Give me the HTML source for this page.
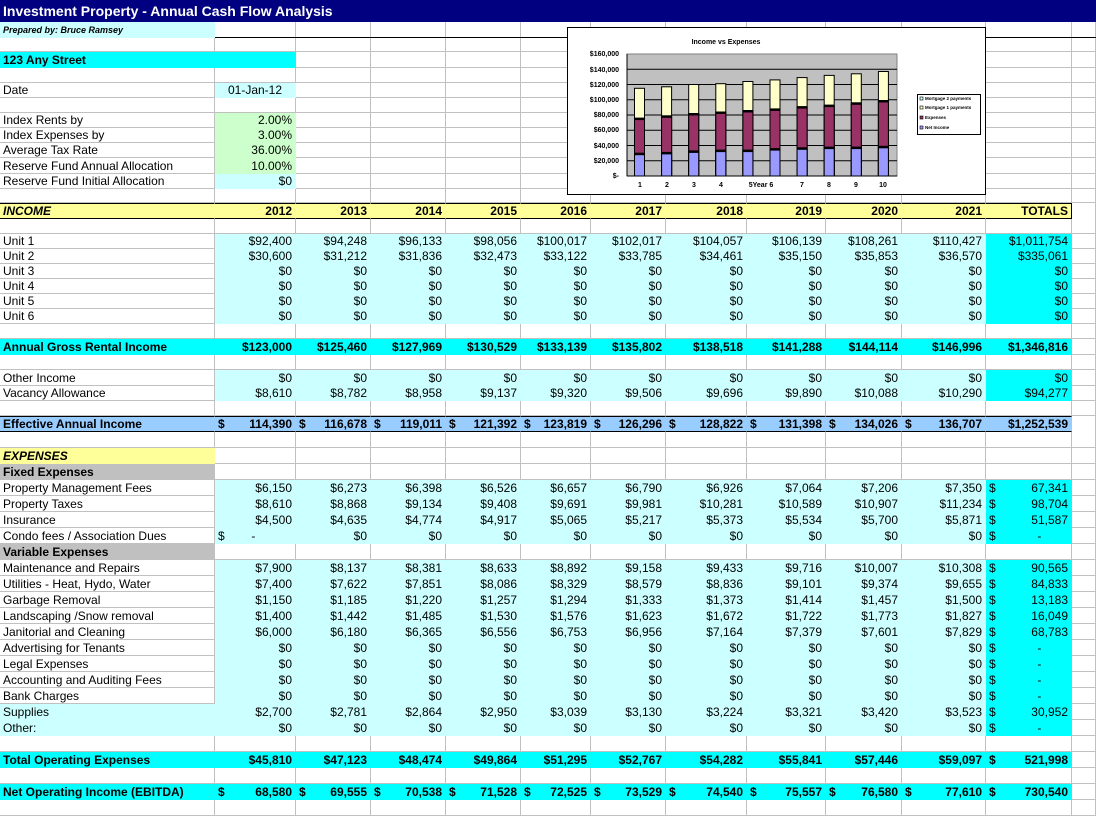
<!DOCTYPE html>
<html><head><meta charset="utf-8"><style>
*{box-sizing:border-box}
body{margin:0;width:1096px;height:806px;overflow:hidden;background:#fff;font-family:"Liberation Sans",Arial,sans-serif;font-size:12px;color:#000;position:relative}
#title{position:absolute;left:0;top:0;width:1096px;height:22px;background:#000080;color:#fff;font-weight:bold;font-size:14px;line-height:22px;padding-left:3px}
table{position:absolute;left:0;top:22px;border-collapse:separate;border-spacing:0;table-layout:fixed;width:1096px}
td{border-right:1px solid #c0c0c0;border-bottom:1px solid #c0c0c0;padding:0 3px;white-space:nowrap;overflow:hidden;text-align:right;line-height:12px}
td:first-child{text-align:left}
i{font-style:normal;float:left}
.c{background:#ccffff;border-color:#ccffff}
.C{background:#00ffff;border-color:#00ffff}
.g{background:#ccffcc;border-color:#ccffcc}
.b td{font-weight:bold}
tr.cy td{background:#00ffff;border-color:#00ffff}
tr.inc td{background:#ffff99;border-top:1px solid #000;border-bottom:1px solid #000;border-right-color:#ffff99;font-weight:bold}
tr.eai td{background:#99ccff;border-top:1px solid #000;border-bottom:1px solid #000;border-right-color:#99ccff;font-weight:bold}
.gr{background:#c0c0c0;border-color:#c0c0c0;font-weight:bold}
.y{background:#ffff99;border-color:#ffff99;font-weight:bold;font-style:italic}
.h15{height:15px}.h16{height:16px}.h14{height:14px}
</style></head><body>
<div id="title">Investment Property - Annual Cash Flow Analysis</div>
<table>
<colgroup><col style="width:215px"><col style="width:81px"><col style="width:75px"><col style="width:75px"><col style="width:75px"><col style="width:70px"><col style="width:75px"><col style="width:81px"><col style="width:79px"><col style="width:76px"><col style="width:84px"><col style="width:86px"><col style="width:24px"></colgroup>
<tr class="h16"><td class="c" style="font-size:9px;font-weight:bold;font-style:italic">Prepared by: Bruce Ramsey</td><td></td><td></td><td></td><td></td><td></td><td></td><td></td><td></td><td></td><td></td><td></td><td></td></tr>
<tr class="h14"><td></td><td></td><td></td><td></td><td></td><td></td><td></td><td></td><td></td><td></td><td></td><td></td><td></td></tr>
<tr class="h16"><td class="C" style="font-weight:bold">123 Any Street</td><td class="C"></td><td></td><td></td><td></td><td></td><td></td><td></td><td></td><td></td><td></td><td></td><td></td></tr>
<tr class="h15"><td></td><td></td><td></td><td></td><td></td><td></td><td></td><td></td><td></td><td></td><td></td><td></td><td></td></tr>
<tr class="h15"><td>Date</td><td class="c" style="text-align:center">01-Jan-12</td><td></td><td></td><td></td><td></td><td></td><td></td><td></td><td></td><td></td><td></td><td></td></tr>
<tr class="h15"><td></td><td></td><td></td><td></td><td></td><td></td><td></td><td></td><td></td><td></td><td></td><td></td><td></td></tr>
<tr class="h15"><td>Index Rents by</td><td class="g">2.00%</td><td></td><td></td><td></td><td></td><td></td><td></td><td></td><td></td><td></td><td></td><td></td></tr>
<tr class="h15"><td>Index Expenses by</td><td class="g">3.00%</td><td></td><td></td><td></td><td></td><td></td><td></td><td></td><td></td><td></td><td></td><td></td></tr>
<tr class="h15"><td>Average Tax Rate</td><td class="g">36.00%</td><td></td><td></td><td></td><td></td><td></td><td></td><td></td><td></td><td></td><td></td><td></td></tr>
<tr class="h16"><td>Reserve Fund Annual Allocation</td><td class="g">10.00%</td><td></td><td></td><td></td><td></td><td></td><td></td><td></td><td></td><td></td><td></td><td></td></tr>
<tr class="h15"><td>Reserve Fund Initial Allocation</td><td class="c">$0</td><td></td><td></td><td></td><td></td><td></td><td></td><td></td><td></td><td></td><td></td><td></td></tr>
<tr class="h14"><td></td><td></td><td></td><td></td><td></td><td></td><td></td><td></td><td></td><td></td><td></td><td></td><td></td></tr>
<tr class="h16 inc"><td style="font-style:italic">INCOME</td><td>2012</td><td>2013</td><td>2014</td><td>2015</td><td>2016</td><td>2017</td><td>2018</td><td>2019</td><td>2020</td><td>2021</td><td style="border-right:1px solid #000">TOTALS</td><td style="background:#fff;border:none;border-right:1px solid #c0c0c0"></td></tr>
<tr class="h15"><td></td><td></td><td></td><td></td><td></td><td></td><td></td><td></td><td></td><td></td><td></td><td></td><td></td></tr>
<tr class="h15"><td>Unit 1</td><td class="c">$92,400</td><td class="c">$94,248</td><td class="c">$96,133</td><td class="c">$98,056</td><td class="c">$100,017</td><td class="c">$102,017</td><td class="c">$104,057</td><td class="c">$106,139</td><td class="c">$108,261</td><td class="c">$110,427</td><td class="C">$1,011,754</td><td></td></tr>
<tr class="h15"><td>Unit 2</td><td class="c">$30,600</td><td class="c">$31,212</td><td class="c">$31,836</td><td class="c">$32,473</td><td class="c">$33,122</td><td class="c">$33,785</td><td class="c">$34,461</td><td class="c">$35,150</td><td class="c">$35,853</td><td class="c">$36,570</td><td class="C">$335,061</td><td></td></tr>
<tr class="h15"><td>Unit 3</td><td class="c">$0</td><td class="c">$0</td><td class="c">$0</td><td class="c">$0</td><td class="c">$0</td><td class="c">$0</td><td class="c">$0</td><td class="c">$0</td><td class="c">$0</td><td class="c">$0</td><td class="C">$0</td><td></td></tr>
<tr class="h15"><td>Unit 4</td><td class="c">$0</td><td class="c">$0</td><td class="c">$0</td><td class="c">$0</td><td class="c">$0</td><td class="c">$0</td><td class="c">$0</td><td class="c">$0</td><td class="c">$0</td><td class="c">$0</td><td class="C">$0</td><td></td></tr>
<tr class="h15"><td>Unit 5</td><td class="c">$0</td><td class="c">$0</td><td class="c">$0</td><td class="c">$0</td><td class="c">$0</td><td class="c">$0</td><td class="c">$0</td><td class="c">$0</td><td class="c">$0</td><td class="c">$0</td><td class="C">$0</td><td></td></tr>
<tr class="h15"><td>Unit 6</td><td class="c">$0</td><td class="c">$0</td><td class="c">$0</td><td class="c">$0</td><td class="c">$0</td><td class="c">$0</td><td class="c">$0</td><td class="c">$0</td><td class="c">$0</td><td class="c">$0</td><td class="C">$0</td><td></td></tr>
<tr class="h15"><td></td><td></td><td></td><td></td><td></td><td></td><td></td><td></td><td></td><td></td><td></td><td></td><td></td></tr>
<tr class="h16 b cy"><td>Annual Gross Rental Income</td><td>$123,000</td><td>$125,460</td><td>$127,969</td><td>$130,529</td><td>$133,139</td><td>$135,802</td><td>$138,518</td><td>$141,288</td><td>$144,114</td><td>$146,996</td><td>$1,346,816</td><td style="background:#fff;border-color:#c0c0c0"></td></tr>
<tr class="h15"><td></td><td></td><td></td><td></td><td></td><td></td><td></td><td></td><td></td><td></td><td></td><td></td><td></td></tr>
<tr class="h16"><td>Other Income</td><td class="c">$0</td><td class="c">$0</td><td class="c">$0</td><td class="c">$0</td><td class="c">$0</td><td class="c">$0</td><td class="c">$0</td><td class="c">$0</td><td class="c">$0</td><td class="c">$0</td><td class="C">$0</td><td></td></tr>
<tr class="h15"><td>Vacancy Allowance</td><td class="c">$8,610</td><td class="c">$8,782</td><td class="c">$8,958</td><td class="c">$9,137</td><td class="c">$9,320</td><td class="c">$9,506</td><td class="c">$9,696</td><td class="c">$9,890</td><td class="c">$10,088</td><td class="c">$10,290</td><td class="C">$94,277</td><td></td></tr>
<tr class="h15"><td></td><td></td><td></td><td></td><td></td><td></td><td></td><td></td><td></td><td></td><td></td><td></td><td></td></tr>
<tr class="h16 eai"><td>Effective Annual Income</td><td><i>$</i>114,390</td><td><i>$</i>116,678</td><td><i>$</i>119,011</td><td><i>$</i>121,392</td><td><i>$</i>123,819</td><td><i>$</i>126,296</td><td><i>$</i>128,822</td><td><i>$</i>131,398</td><td><i>$</i>134,026</td><td><i>$</i>136,707</td><td>$1,252,539</td><td style="background:#fff;border:none;border-right:1px solid #c0c0c0"></td></tr>
<tr class="h16"><td></td><td></td><td></td><td></td><td></td><td></td><td></td><td></td><td></td><td></td><td></td><td></td><td></td></tr>
<tr class="h16"><td class="y">EXPENSES</td><td></td><td></td><td></td><td></td><td></td><td></td><td></td><td></td><td></td><td></td><td></td><td></td></tr>
<tr class="h16"><td class="gr">Fixed Expenses</td><td></td><td></td><td></td><td></td><td></td><td></td><td></td><td></td><td></td><td></td><td></td><td></td></tr>
<tr class="h16"><td>Property Management Fees</td><td class="c">$6,150</td><td class="c">$6,273</td><td class="c">$6,398</td><td class="c">$6,526</td><td class="c">$6,657</td><td class="c">$6,790</td><td class="c">$6,926</td><td class="c">$7,064</td><td class="c">$7,206</td><td class="c">$7,350</td><td class="C"><i>$</i>67,341</td><td></td></tr>
<tr class="h16"><td>Property Taxes</td><td class="c">$8,610</td><td class="c">$8,868</td><td class="c">$9,134</td><td class="c">$9,408</td><td class="c">$9,691</td><td class="c">$9,981</td><td class="c">$10,281</td><td class="c">$10,589</td><td class="c">$10,907</td><td class="c">$11,234</td><td class="C"><i>$</i>98,704</td><td></td></tr>
<tr class="h16"><td>Insurance</td><td class="c">$4,500</td><td class="c">$4,635</td><td class="c">$4,774</td><td class="c">$4,917</td><td class="c">$5,065</td><td class="c">$5,217</td><td class="c">$5,373</td><td class="c">$5,534</td><td class="c">$5,700</td><td class="c">$5,871</td><td class="C"><i>$</i>51,587</td><td></td></tr>
<tr class="h16"><td>Condo fees / Association Dues</td><td class="c"><i>$</i>-&nbsp;&nbsp;&nbsp;&nbsp;&nbsp;&nbsp;&nbsp;&nbsp;&nbsp;&nbsp;&nbsp;</td><td class="c">$0</td><td class="c">$0</td><td class="c">$0</td><td class="c">$0</td><td class="c">$0</td><td class="c">$0</td><td class="c">$0</td><td class="c">$0</td><td class="c">$0</td><td class="C"><i>$</i>-&nbsp;&nbsp;&nbsp;&nbsp;&nbsp;&nbsp;&nbsp;&nbsp;</td><td></td></tr>
<tr class="h16"><td class="gr">Variable Expenses</td><td></td><td></td><td></td><td></td><td></td><td></td><td></td><td></td><td></td><td></td><td></td><td></td></tr>
<tr class="h16"><td>Maintenance and Repairs</td><td class="c">$7,900</td><td class="c">$8,137</td><td class="c">$8,381</td><td class="c">$8,633</td><td class="c">$8,892</td><td class="c">$9,158</td><td class="c">$9,433</td><td class="c">$9,716</td><td class="c">$10,007</td><td class="c">$10,308</td><td class="C"><i>$</i>90,565</td><td></td></tr>
<tr class="h16"><td>Utilities - Heat, Hydo, Water</td><td class="c">$7,400</td><td class="c">$7,622</td><td class="c">$7,851</td><td class="c">$8,086</td><td class="c">$8,329</td><td class="c">$8,579</td><td class="c">$8,836</td><td class="c">$9,101</td><td class="c">$9,374</td><td class="c">$9,655</td><td class="C"><i>$</i>84,833</td><td></td></tr>
<tr class="h16"><td>Garbage Removal</td><td class="c">$1,150</td><td class="c">$1,185</td><td class="c">$1,220</td><td class="c">$1,257</td><td class="c">$1,294</td><td class="c">$1,333</td><td class="c">$1,373</td><td class="c">$1,414</td><td class="c">$1,457</td><td class="c">$1,500</td><td class="C"><i>$</i>13,183</td><td></td></tr>
<tr class="h16"><td>Landscaping /Snow removal</td><td class="c">$1,400</td><td class="c">$1,442</td><td class="c">$1,485</td><td class="c">$1,530</td><td class="c">$1,576</td><td class="c">$1,623</td><td class="c">$1,672</td><td class="c">$1,722</td><td class="c">$1,773</td><td class="c">$1,827</td><td class="C"><i>$</i>16,049</td><td></td></tr>
<tr class="h16"><td>Janitorial and Cleaning</td><td class="c">$6,000</td><td class="c">$6,180</td><td class="c">$6,365</td><td class="c">$6,556</td><td class="c">$6,753</td><td class="c">$6,956</td><td class="c">$7,164</td><td class="c">$7,379</td><td class="c">$7,601</td><td class="c">$7,829</td><td class="C"><i>$</i>68,783</td><td></td></tr>
<tr class="h16"><td>Advertising for Tenants</td><td class="c">$0</td><td class="c">$0</td><td class="c">$0</td><td class="c">$0</td><td class="c">$0</td><td class="c">$0</td><td class="c">$0</td><td class="c">$0</td><td class="c">$0</td><td class="c">$0</td><td class="C"><i>$</i>-&nbsp;&nbsp;&nbsp;&nbsp;&nbsp;&nbsp;&nbsp;&nbsp;</td><td></td></tr>
<tr class="h16"><td>Legal Expenses</td><td class="c">$0</td><td class="c">$0</td><td class="c">$0</td><td class="c">$0</td><td class="c">$0</td><td class="c">$0</td><td class="c">$0</td><td class="c">$0</td><td class="c">$0</td><td class="c">$0</td><td class="C"><i>$</i>-&nbsp;&nbsp;&nbsp;&nbsp;&nbsp;&nbsp;&nbsp;&nbsp;</td><td></td></tr>
<tr class="h16"><td>Accounting and Auditing Fees</td><td class="c">$0</td><td class="c">$0</td><td class="c">$0</td><td class="c">$0</td><td class="c">$0</td><td class="c">$0</td><td class="c">$0</td><td class="c">$0</td><td class="c">$0</td><td class="c">$0</td><td class="C"><i>$</i>-&nbsp;&nbsp;&nbsp;&nbsp;&nbsp;&nbsp;&nbsp;&nbsp;</td><td></td></tr>
<tr class="h16"><td>Bank Charges</td><td class="c">$0</td><td class="c">$0</td><td class="c">$0</td><td class="c">$0</td><td class="c">$0</td><td class="c">$0</td><td class="c">$0</td><td class="c">$0</td><td class="c">$0</td><td class="c">$0</td><td class="C"><i>$</i>-&nbsp;&nbsp;&nbsp;&nbsp;&nbsp;&nbsp;&nbsp;&nbsp;</td><td></td></tr>
<tr class="h16"><td class="c">Supplies</td><td class="c">$2,700</td><td class="c">$2,781</td><td class="c">$2,864</td><td class="c">$2,950</td><td class="c">$3,039</td><td class="c">$3,130</td><td class="c">$3,224</td><td class="c">$3,321</td><td class="c">$3,420</td><td class="c">$3,523</td><td class="C"><i>$</i>30,952</td><td></td></tr>
<tr class="h16"><td class="c">Other:</td><td class="c">$0</td><td class="c">$0</td><td class="c">$0</td><td class="c">$0</td><td class="c">$0</td><td class="c">$0</td><td class="c">$0</td><td class="c">$0</td><td class="c">$0</td><td class="c">$0</td><td class="C"><i>$</i>-&nbsp;&nbsp;&nbsp;&nbsp;&nbsp;&nbsp;&nbsp;&nbsp;</td><td></td></tr>
<tr class="h16"><td></td><td></td><td></td><td></td><td></td><td></td><td></td><td></td><td></td><td></td><td></td><td></td><td></td></tr>
<tr class="h16 b cy"><td>Total Operating Expenses</td><td>$45,810</td><td>$47,123</td><td>$48,474</td><td>$49,864</td><td>$51,295</td><td>$52,767</td><td>$54,282</td><td>$55,841</td><td>$57,446</td><td>$59,097</td><td><i>$</i>521,998</td><td style="background:#fff;border-color:#c0c0c0"></td></tr>
<tr class="h16"><td></td><td></td><td></td><td></td><td></td><td></td><td></td><td></td><td></td><td></td><td></td><td></td><td></td></tr>
<tr class="h16 b cy"><td>Net Operating Income (EBITDA)</td><td><i>$</i>68,580</td><td><i>$</i>69,555</td><td><i>$</i>70,538</td><td><i>$</i>71,528</td><td><i>$</i>72,525</td><td><i>$</i>73,529</td><td><i>$</i>74,540</td><td><i>$</i>75,557</td><td><i>$</i>76,580</td><td><i>$</i>77,610</td><td><i>$</i>730,540</td><td style="background:#fff;border-color:#c0c0c0"></td></tr>
<tr class="h16"><td></td><td></td><td></td><td></td><td></td><td></td><td></td><td></td><td></td><td></td><td></td><td></td><td></td></tr>
</table>
<div style="position:absolute;left:215px;top:37px;width:881px;height:1px;background:#000"></div>
<svg style="position:absolute;left:0;top:0" width="1096" height="806" font-family="Liberation Sans, Arial, sans-serif">
<rect x="567.5" y="27.5" width="418" height="167" fill="#fff" stroke="#000"/>
<text x="726" y="44" font-size="7" font-weight="bold" text-anchor="middle">Income vs Expenses</text>
<rect x="627" y="54" width="270" height="122" fill="#c0c0c0" stroke="#808080"/>
<g stroke="#000" stroke-width="1">
<line x1="627" y1="69.25" x2="897" y2="69.25"/><line x1="627" y1="84.5" x2="897" y2="84.5"/><line x1="627" y1="99.75" x2="897" y2="99.75"/><line x1="627" y1="115" x2="897" y2="115"/><line x1="627" y1="130.25" x2="897" y2="130.25"/><line x1="627" y1="145.5" x2="897" y2="145.5"/><line x1="627" y1="160.75" x2="897" y2="160.75"/><line x1="627" y1="176" x2="897" y2="176"/><line x1="627" y1="54" x2="627" y2="176"/>
</g>
<g font-size="7" font-weight="bold" text-anchor="end">
<text x="619" y="56">$160,000</text><text x="619" y="72">$140,000</text><text x="619" y="87">$120,000</text><text x="619" y="102">$100,000</text><text x="619" y="117">$80,000</text><text x="619" y="132">$60,000</text><text x="619" y="148">$40,000</text><text x="619" y="163">$20,000</text><text x="619" y="178">$-</text>
</g>
<g stroke="#000" stroke-width="1">
<rect x="634.5" y="88.3" width="10" height="87.7" fill="#ffffcc"/><rect x="634.5" y="118.1" width="10" height="57.9" fill="#000"/><rect x="634.5" y="119.6" width="10" height="56.4" fill="#993366"/><rect x="634.5" y="153.2" width="10" height="22.8" fill="#000"/><rect x="634.5" y="154.7" width="10" height="21.3" fill="#9999ff"/>
<rect x="661.6" y="86.8" width="10" height="89.2" fill="#ffffcc"/><rect x="661.6" y="115.8" width="10" height="60.2" fill="#000"/><rect x="661.6" y="117.3" width="10" height="58.7" fill="#993366"/><rect x="661.6" y="152.4" width="10" height="23.6" fill="#000"/><rect x="661.6" y="153.9" width="10" height="22.1" fill="#9999ff"/>
<rect x="688.7" y="84.5" width="10" height="91.5" fill="#ffffcc"/><rect x="688.7" y="113.5" width="10" height="62.5" fill="#000"/><rect x="688.7" y="115" width="10" height="61" fill="#993366"/><rect x="688.7" y="150.9" width="10" height="25.1" fill="#000"/><rect x="688.7" y="152.4" width="10" height="23.6" fill="#9999ff"/>
<rect x="715.8" y="83.7" width="10" height="92.3" fill="#ffffcc"/><rect x="715.8" y="112" width="10" height="64" fill="#000"/><rect x="715.8" y="113.5" width="10" height="62.5" fill="#993366"/><rect x="715.8" y="150.1" width="10" height="25.9" fill="#000"/><rect x="715.8" y="151.6" width="10" height="24.4" fill="#9999ff"/>
<rect x="742.9" y="81.5" width="10" height="94.5" fill="#ffffcc"/><rect x="742.9" y="110.5" width="10" height="65.5" fill="#000"/><rect x="742.9" y="112" width="10" height="64" fill="#993366"/><rect x="742.9" y="150.1" width="10" height="25.9" fill="#000"/><rect x="742.9" y="151.6" width="10" height="24.4" fill="#9999ff"/>
<rect x="770" y="79.9" width="10" height="96.1" fill="#ffffcc"/><rect x="770" y="108.9" width="10" height="67.1" fill="#000"/><rect x="770" y="110.4" width="10" height="65.6" fill="#993366"/><rect x="770" y="148.6" width="10" height="27.4" fill="#000"/><rect x="770" y="150.1" width="10" height="25.9" fill="#9999ff"/>
<rect x="797.1" y="77.6" width="10" height="98.4" fill="#ffffcc"/><rect x="797.1" y="106.6" width="10" height="69.4" fill="#000"/><rect x="797.1" y="108.1" width="10" height="67.9" fill="#993366"/><rect x="797.1" y="147.8" width="10" height="28.2" fill="#000"/><rect x="797.1" y="149.3" width="10" height="26.7" fill="#9999ff"/>
<rect x="824.2" y="75.4" width="10" height="100.6" fill="#ffffcc"/><rect x="824.2" y="105.1" width="10" height="70.9" fill="#000"/><rect x="824.2" y="106.6" width="10" height="69.4" fill="#993366"/><rect x="824.2" y="147.1" width="10" height="28.9" fill="#000"/><rect x="824.2" y="148.6" width="10" height="27.4" fill="#9999ff"/>
<rect x="851.3" y="73.8" width="10" height="102.2" fill="#ffffcc"/><rect x="851.3" y="102.8" width="10" height="73.2" fill="#000"/><rect x="851.3" y="104.3" width="10" height="71.7" fill="#993366"/><rect x="851.3" y="147.1" width="10" height="28.9" fill="#000"/><rect x="851.3" y="148.6" width="10" height="27.4" fill="#9999ff"/>
<rect x="878.4" y="71.5" width="10" height="104.5" fill="#ffffcc"/><rect x="878.4" y="100.5" width="10" height="75.5" fill="#000"/><rect x="878.4" y="102" width="10" height="74" fill="#993366"/><rect x="878.4" y="146.3" width="10" height="29.7" fill="#000"/><rect x="878.4" y="147.8" width="10" height="28.2" fill="#9999ff"/>
</g>
<g font-size="7" font-weight="bold" text-anchor="middle">
<text x="640" y="187">1</text><text x="667" y="187">2</text><text x="694" y="187">3</text><text x="721" y="187">4</text><text x="761" y="187">5Year 6</text><text x="802" y="187">7</text><text x="829" y="187">8</text><text x="856" y="187">9</text><text x="883" y="187">10</text>
</g>
<rect x="917.5" y="94.5" width="63" height="40" fill="#fff" stroke="#000"/>
<g font-size="4.5" font-weight="bold">
<rect x="920" y="97" width="3" height="3" fill="#ccffff" stroke="#000" stroke-width="0.6"/><text x="925" y="100">Mortgage 2 payments</text>
<rect x="920" y="106" width="3" height="3" fill="#ffffcc" stroke="#000" stroke-width="0.6"/><text x="925" y="109">Mortgage 1 payments</text>
<rect x="920" y="116" width="3" height="3" fill="#993366" stroke="#000" stroke-width="0.6"/><text x="925" y="119">Expenses</text>
<rect x="920" y="126" width="3" height="3" fill="#9999ff" stroke="#000" stroke-width="0.6"/><text x="925" y="129">Net Income</text>
</g>
</svg>
</body></html>
